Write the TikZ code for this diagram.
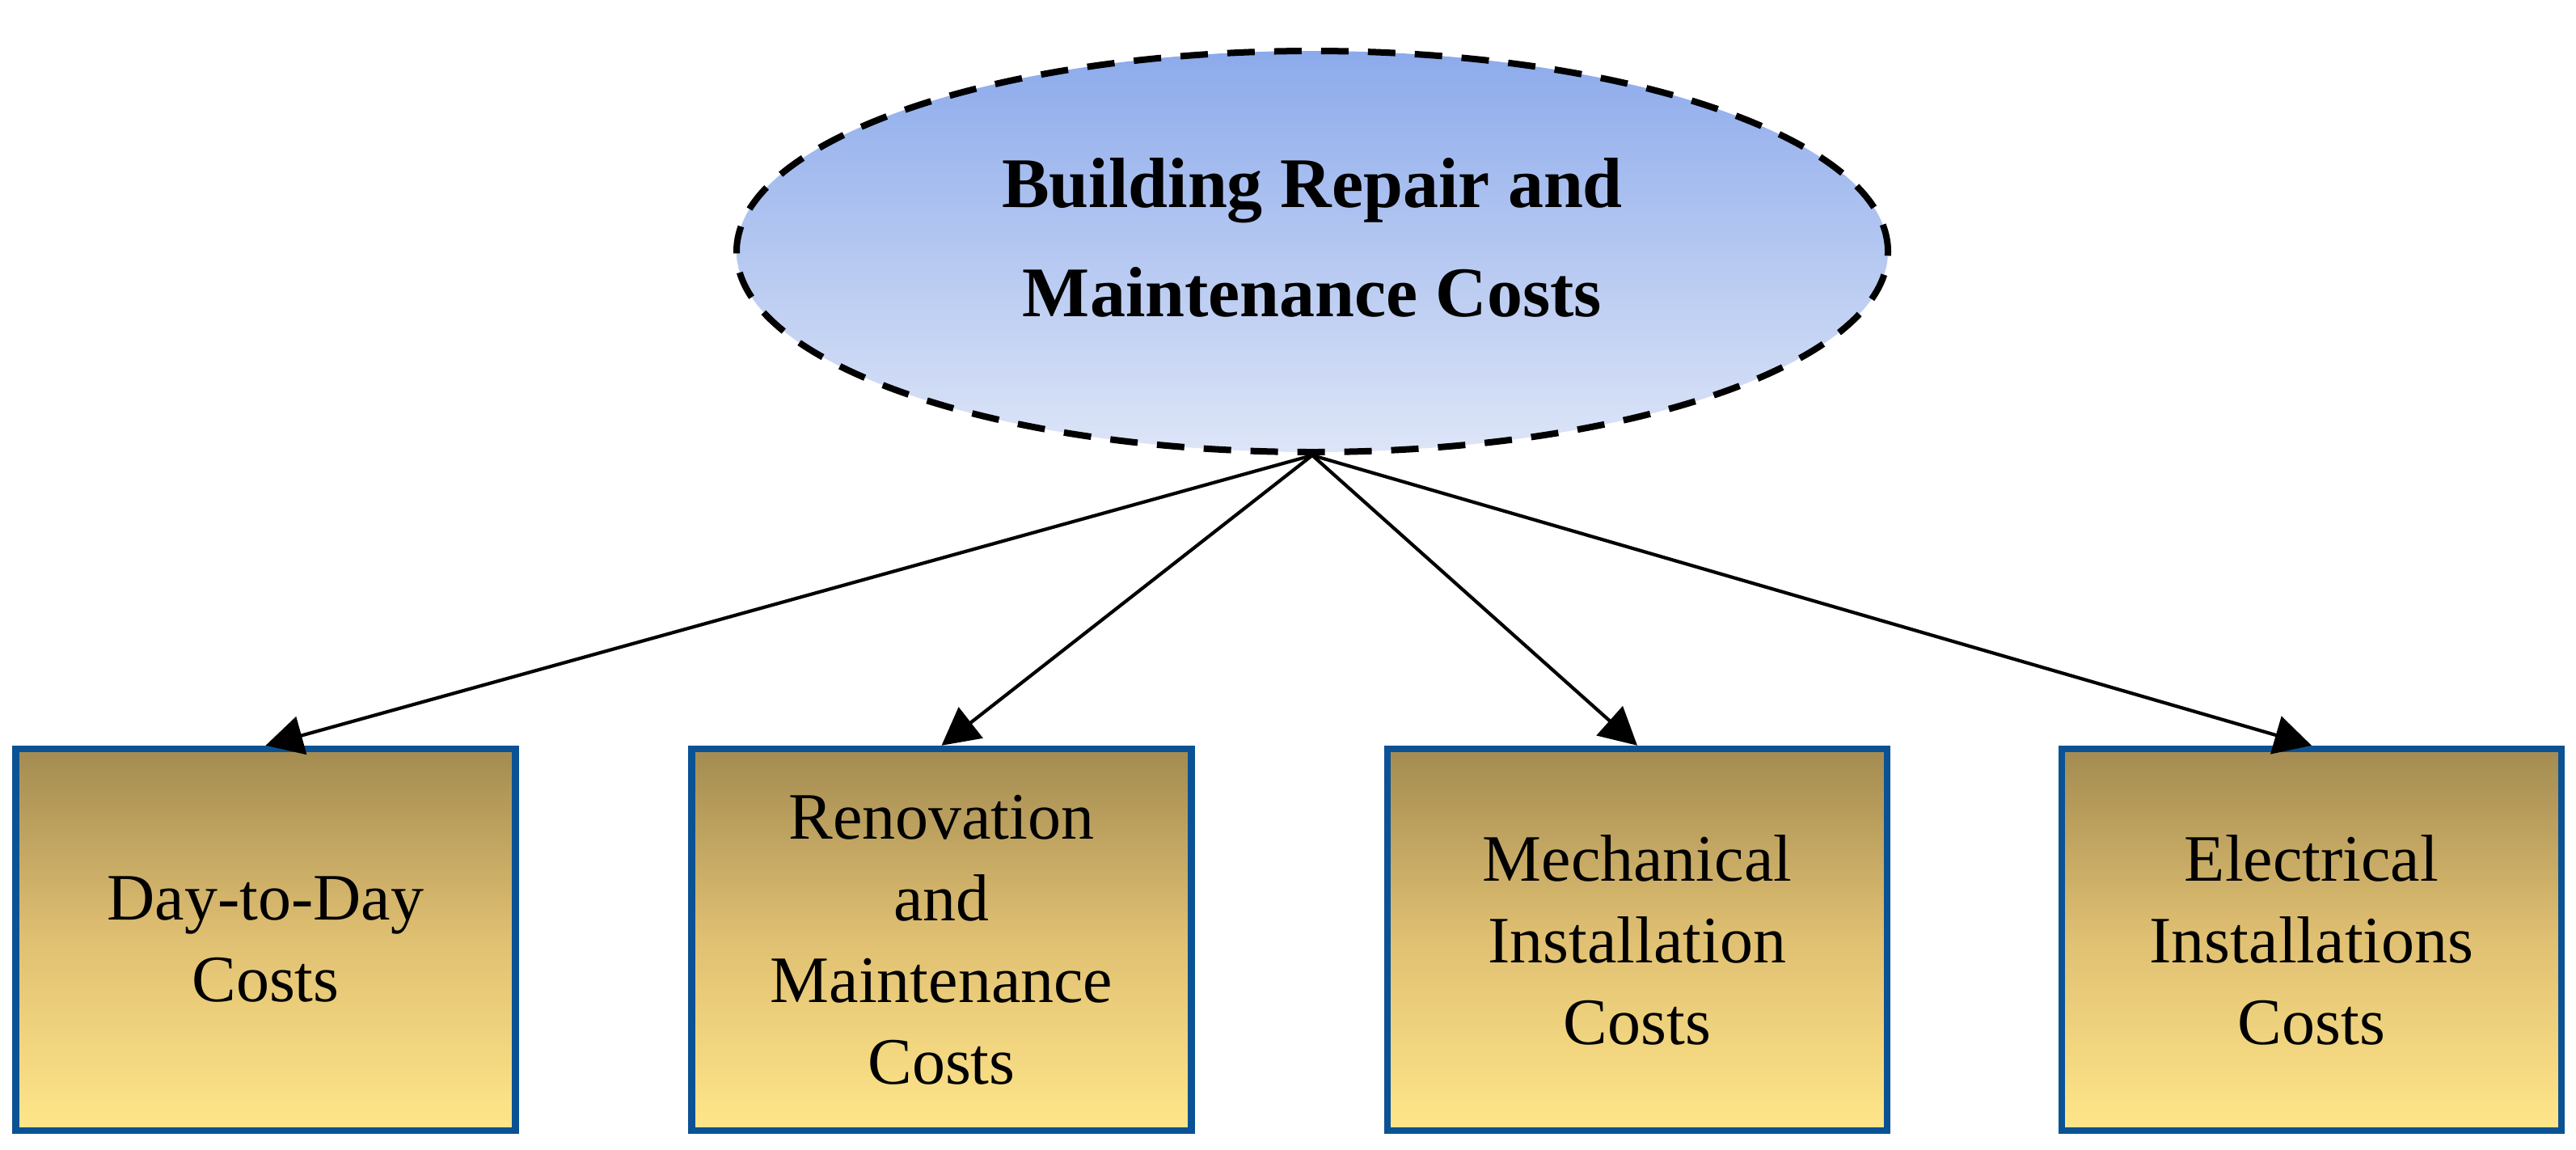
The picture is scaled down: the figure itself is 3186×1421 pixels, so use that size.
\documentclass[tikz,border=0pt]{standalone}
\usepackage{fontspec}
\setmainfont{Liberation Serif}
\usetikzlibrary{arrows.meta,shapes.geometric}
\definecolor{boxblue}{RGB}{11,82,148}
\definecolor{goldtop}{RGB}{163,139,81}
\definecolor{goldmid}{RGB}{224,192,114}
\definecolor{goldbot}{RGB}{255,230,138}
\definecolor{bluetop}{RGB}{140,170,235}
\definecolor{bluebot}{RGB}{221,229,247}
\tikzset{
  costbox/.style={rectangle, draw=boxblue, line width=4.2pt,
    top color=goldtop, bottom color=goldbot, middle color=goldmid,
    minimum width=309pt, minimum height=236pt, inner sep=0pt,
    align=center, font=\fontsize{41}{50.5}\selectfont},
  rootoval/.style={ellipse, draw=black, line width=4pt,
    dash pattern=on 17pt off 12pt,
    top color=bluetop, bottom color=bluebot,
    minimum width=712pt, minimum height=248pt, inner sep=0pt},
  roottext/.style={align=center, font=\bfseries\fontsize{44}{67.5}\selectfont},
  link/.style={line width=2.1pt, -{Triangle[length=23pt,width=24pt]}}
}
\begin{document}
\begin{tikzpicture}[x=0.5pt,y=-0.5pt]
\useasboundingbox (0,0) rectangle (3186,1421);
\node[rootoval] (root) at (1623,311) {};
\node[roottext] (title) at (1623,294) {Building Repair and\\Maintenance Costs};
\node[costbox] (b1) at (328.5,1162) {Day-to-Day\\Costs};
\node[costbox] (b2) at (1164.5,1162) {Renovation\\and\\Maintenance\\Costs};
\node[costbox] (b3) at (2025,1162) {Mechanical\\Installation\\Costs};
\node[costbox] (b4) at (2859,1162) {Electrical\\Installations\\Costs};
\foreach \b in {b1,b2,b3,b4}
  \draw[link] (root.south) -- (\b.north);
\end{tikzpicture}
\end{document}
